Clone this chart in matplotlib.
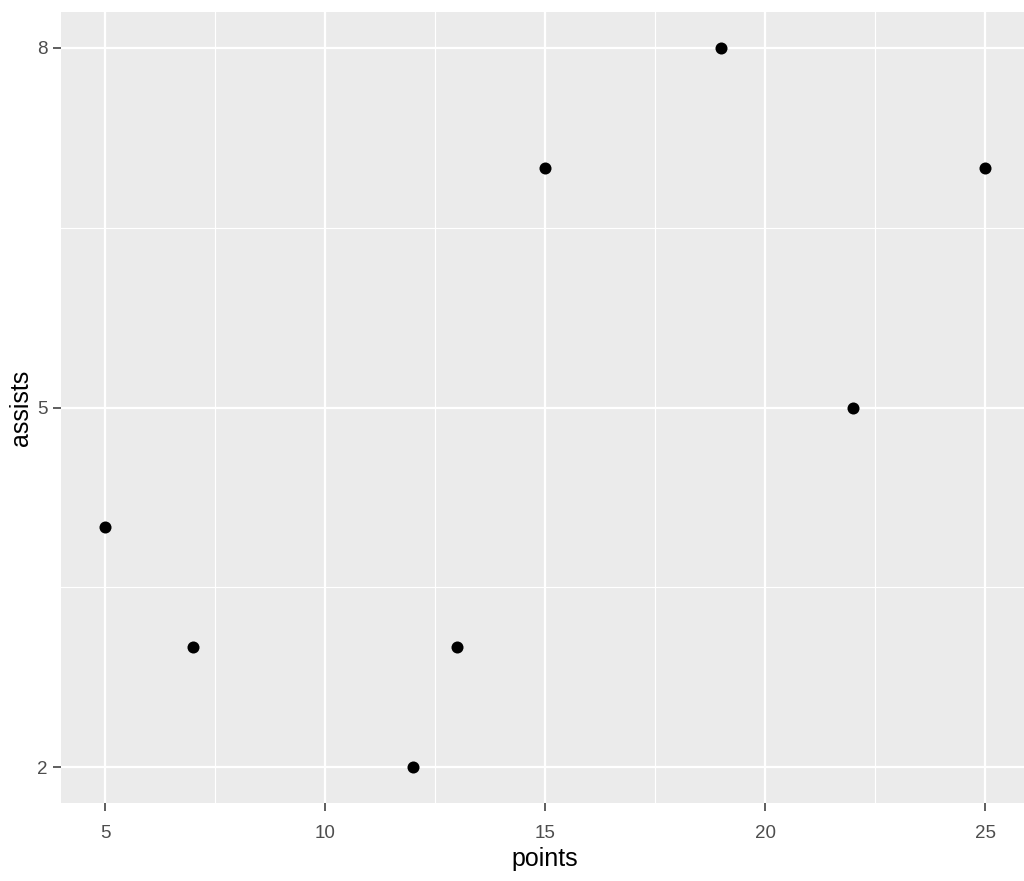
import numpy as np
import matplotlib.pyplot as plt

plt.rcParams['font.family'] = ['Liberation Sans', 'DejaVu Sans']

# data
points = [5, 7, 12, 13, 15, 19, 22, 25]
assists = [4, 3, 2, 3, 7, 8, 5, 7]
x_ticks = [5, 10, 15, 20, 25]
y_ticks = [2, 5, 8]

W, H = 1024, 881
fig = plt.figure(figsize=(W / 100, H / 100), dpi=100)
fig.patch.set_facecolor('white')

# panel in pixels (right edge runs past the image, as in the reference)
left, right, top, bottom = 61, 1029, 12, 803
ax = fig.add_axes([left / W, 1 - bottom / H, (right - left) / W, (bottom - top) / H])
ax.set_facecolor('#EBEBEB')

ax.set_xlim(4, 26)
ax.set_ylim(1.7, 8.3)

ax.set_xticks(x_ticks)
ax.set_yticks(y_ticks)
ax.set_xticks([7.5, 12.5, 17.5, 22.5], minor=True)
ax.set_yticks([3.5, 6.5], minor=True)

ax.grid(which='major', color='white', linewidth=1.6)
ax.grid(which='minor', color='white', linewidth=0.8)
ax.set_axisbelow(True)

for s in ax.spines.values():
    s.set_visible(False)

ax.tick_params(which='major', length=5.5, width=1.1, color='#333333',
               labelsize=13.5, labelcolor='#4D4D4D')
ax.tick_params(axis='x', which='major', pad=10)
ax.tick_params(axis='y', which='major', pad=4)
ax.tick_params(which='minor', length=0)

ax.scatter(points, assists, s=75, color='black', zorder=3, linewidths=0)

ax.set_xlabel('points', fontsize=18, color='black', labelpad=4)
ax.set_ylabel('assists', fontsize=18, color='black', labelpad=3)

fig.savefig('out.png', dpi=100)
